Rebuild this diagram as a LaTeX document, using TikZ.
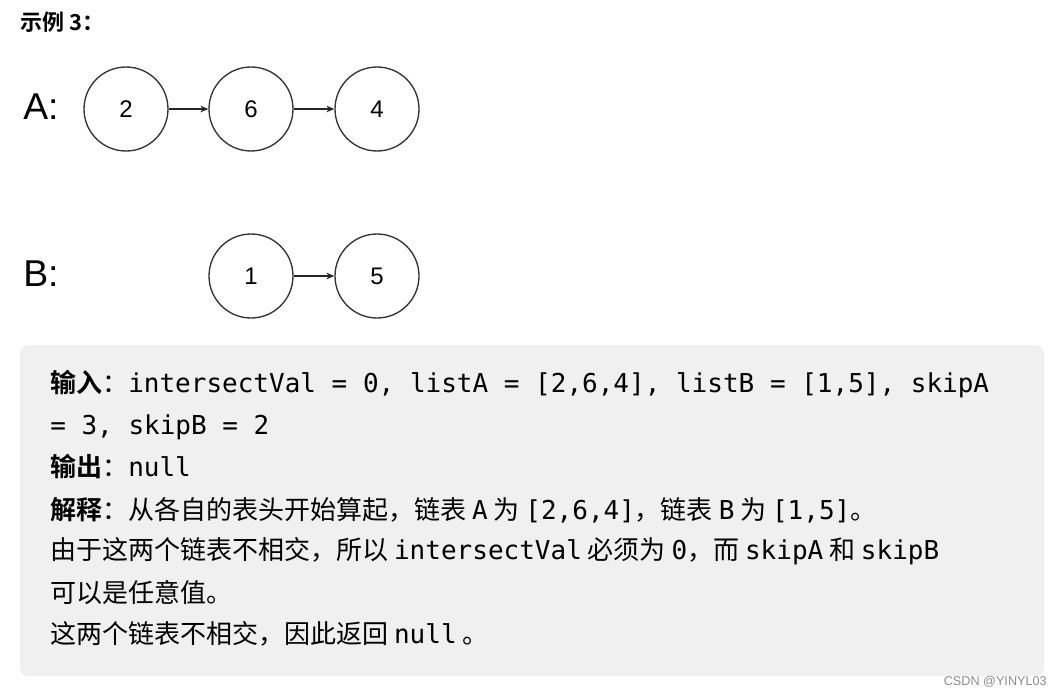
\documentclass[tikz,border=0pt]{standalone}
\usepackage{fontspec}
\setmainfont{Liberation Sans}
\newfontfamily\cjk{Noto Sans CJK SC}
\newfontfamily\cjkb{Noto Sans CJK SC Bold}
\setmonofont{DejaVu Sans Mono}
\usetikzlibrary{arrows.meta}
\begin{document}
\begin{tikzpicture}[x=0.75pt,y=-0.75pt,
  lnode/.style={draw=black!80,line width=1pt,circle,minimum size=63pt,inner sep=0pt,font=\fontsize{18}{18}\selectfont},
  link/.style={-{Stealth[length=6pt,width=5pt]},line width=0.8pt,black!85},
  txt/.style={anchor=west,inner sep=0pt,font=\fontsize{19.5}{19.5}\selectfont\cjk},
  big/.style={anchor=west,inner sep=0pt,font=\fontsize{28}{28}\selectfont}]
\useasboundingbox (0,0) rectangle (1062,696);
\fill[white] (0,0) rectangle (1062,696);
\node[anchor=west,inner sep=0pt,font=\fontsize{16.5}{16.5}\selectfont\cjkb] (title) at (20,22) {示例 3：};
\node[big] (la) at (23,107) {A:};
\node[big] (lb) at (23,274) {B:};
\node[lnode] (a1) at (126,109) {2};
\node[lnode] (a2) at (251,109) {6};
\node[lnode] (a3) at (377,109) {4};
\node[lnode] (b1) at (251,276) {1};
\node[lnode] (b2) at (377,276) {5};
\draw[link] (a1) -- (a2);
\draw[link] (a2) -- (a3);
\draw[link] (b1) -- (b2);
\fill[rounded corners=6pt,fill=black!6] (20,345) rectangle (1044,676);
\node[txt] (t1) at (50,384) {{\cjkb 输入}：\texttt{intersectVal = 0, listA = [2,6,4], listB = [1,5], skipA}};
\node[txt] (t2) at (50,427) {\texttt{= 3, skipB = 2}};
\node[txt] (t3) at (50,467) {{\cjkb 输出}：\texttt{null}};
\node[txt] (t4) at (50,510) {{\cjkb 解释}：从各自的表头开始算起，链表 \texttt{A} 为 \texttt{[2,6,4]}，链表 \texttt{B} 为 \texttt{[1,5]}。};
\node[txt] (t5) at (50,551) {由于这两个链表不相交，所以 \texttt{intersectVal} 必须为 \texttt{0}，而 \texttt{skipA} 和 \texttt{skipB}};
\node[txt] (t6) at (50,593) {可以是任意值。};
\node[txt] (t7) at (50,634) {这两个链表不相交，因此返回 \texttt{null} 。};
\node[anchor=east,inner sep=0pt,text=black!45,font=\fontsize{9.5}{9.5}\selectfont] (wm) at (1047,682) {CSDN @YINYL03};
\end{tikzpicture}
\end{document}
